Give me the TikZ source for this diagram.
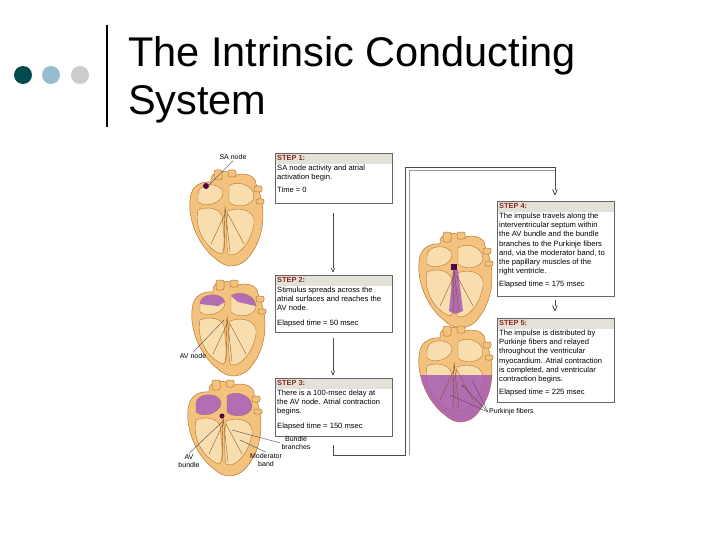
\documentclass[tikz,border=0pt]{standalone}
\usepackage{fontspec}
\setmainfont{Liberation Sans}
\definecolor{hfill}{HTML}{F2C27E}
\definecolor{hline}{HTML}{B9772E}
\definecolor{hchamb}{HTML}{F8DDAE}
\definecolor{hpurp}{HTML}{A65BB5}
\definecolor{hdrbg}{HTML}{E4E2D8}
\definecolor{hdrtx}{HTML}{8A2A1E}
\begin{document}
\begin{tikzpicture}[x=1pt,y=-1pt,
  boxtext/.style={anchor=north west,inner sep=2pt,font=\fontsize{7.6}{9.1}\selectfont,align=left},
  hdr/.style={anchor=north west,inner sep=2pt,font=\fontsize{7.4}{9}\selectfont\bfseries,text=hdrtx},
  lbl/.style={font=\fontsize{7}{8}\selectfont,inner sep=1pt,align=center},
  flow/.style={draw=black!70,line width=0.6pt},
  vhead/.style={font=\fontsize{8}{8}\selectfont,inner sep=0pt},
  heartfill/.style={fill=hfill,draw=hline,line width=0.5pt},
  chamber/.style={fill=hchamb,draw=hline,line width=0.4pt},
  purp/.style={fill=hpurp,draw=none,opacity=0.85}]
\useasboundingbox (0,0) rectangle (720,540);
\fill[white] (0,0) rectangle (720,540);
\fill[teal!60!black] (23,75) circle (9);
\fill[cyan!40!gray!70] (51,75) circle (9);
\fill[gray!40] (80,75) circle (9);
\draw[line width=2.5pt] (107,25) -- (107,127);
\node[anchor=base west,inner sep=0pt,font=\fontsize{41.5}{44}\selectfont] (t1) at (128,67) {The Intrinsic Conducting};
\node[anchor=base west,inner sep=0pt,font=\fontsize{41.5}{44}\selectfont] (t2) at (128,115) {System};

\newcommand{\hrt}[3]{%
\begin{scope}[shift={(#1,#2)}]
  \draw[heartfill] (-15,-32) .. controls (-18,-45) and (5,-45) .. (8,-38) .. controls (15,-42) and (30,-40) .. (30,-30)
     .. controls (40,-10) and (40,20) .. (25,40) .. controls (15,55) and (0,55) .. (-10,45)
     .. controls (-30,30) and (-40,0) .. (-35,-20) .. controls (-32,-30) and (-22,-33) .. (-15,-32) -- cycle;
  \draw[heartfill,rounded corners=2pt] (-12,-34) rectangle (-4,-44);
  \draw[heartfill,rounded corners=2pt] (2,-37) rectangle (10,-44);
  \draw[heartfill,rounded corners=2pt] (28,-28) rectangle (36,-22);
  \draw[heartfill,rounded corners=2pt] (30,-15) rectangle (38,-10);
  \draw[chamber] (-28,-20) .. controls (-28,-32) and (-5,-32) .. (-3,-22) .. controls (-2,-12) and (-20,-5) .. (-28,-12) -- cycle;
  \draw[chamber] (3,-28) .. controls (10,-34) and (27,-30) .. (28,-18) .. controls (28,-8) and (10,-5) .. (3,-12) -- cycle;
  \draw[chamber] (-28,-4) .. controls (-20,-8) and (-6,-6) .. (-4,2) .. controls (-2,20) and (0,38) .. (-5,40) .. controls (-20,35) and (-32,15) .. (-28,-4) -- cycle;
  \draw[chamber] (2,-3) .. controls (15,-8) and (30,-3) .. (28,10) .. controls (25,30) and (10,45) .. (2,40) .. controls (0,25) and (0,10) .. (2,-3) -- cycle;
  \ifcase#3\relax
  \or
    \fill[violet!60!black] (-20,-28) circle (3);
  \or
    \fill[purp] (-28,-20) .. controls (-28,-32) and (-5,-32) .. (-3,-22) -- (-10,-18) -- cycle;
    \fill[purp] (3,-28) .. controls (10,-34) and (27,-30) .. (28,-18) -- (10,-22) -- cycle;
  \or
    \fill[purp] (-28,-20) .. controls (-28,-32) and (-5,-32) .. (-3,-22) .. controls (-2,-12) and (-20,-5) .. (-28,-12) -- cycle;
    \fill[purp] (3,-28) .. controls (10,-34) and (27,-30) .. (28,-18) .. controls (28,-8) and (10,-5) .. (3,-12) -- cycle;
    \fill[violet!60!black] (-2,-8) circle (2.5);
  \or
    \fill[violet!60!black] (-4,-12) rectangle (2,-6);
    \fill[purp] (-2,-6) -- (3,-6) -- (8,35) -- (0,38) -- (-6,35) -- cycle;
  \or
    \begin{scope}
      \clip (-40,5) rectangle (40,60);
      \fill[purp] (-15,-32) .. controls (-18,-45) and (5,-45) .. (8,-38) .. controls (15,-42) and (30,-40) .. (30,-30)
     .. controls (40,-10) and (40,20) .. (25,40) .. controls (15,55) and (0,55) .. (-10,45)
     .. controls (-30,30) and (-40,0) .. (-35,-20) -- cycle;
    \end{scope}
  \fi
  \draw[hline!70!black,line width=0.35pt] (-1,-8) -- (-2,38) (-1,-8) -- (4,38) (-1,0) -- (-15,30) (2,0) -- (18,30);
\end{scope}}

\hrt{226}{214}{1}
\hrt{228}{324}{2}
\hrt{224}{424}{3}
\hrt{455}{276}{4}
\hrt{455}{370}{5}

\newcommand{\stepbox}[5]{%
  \fill[hdrbg] (#2,#3) rectangle ++(117,11);
  \draw[black!60,line width=0.5pt] (#2,#3) rectangle ++(117,#4);
  \coordinate (#1) at (#2,#3);
  \node[hdr] at (#2,#3) {#5};}
\stepbox{s1}{275}{153}{50}{STEP 1:}
\node[boxtext] (b1) at (275,163) {SA node activity and atrial\\activation begin.\\[4pt]Time = 0};
\stepbox{s2}{275}{275}{57}{STEP 2:}
\node[boxtext] (b2) at (275,285) {Stimulus spreads across the\\atrial surfaces and reaches the\\AV node.\\[5pt]Elapsed time = 50 msec};
\stepbox{s3}{275}{378}{58}{STEP 3:}
\node[boxtext] (b3) at (275,388) {There is a 100-msec delay at\\the AV node. Atrial contraction\\begins.\\[5pt]Elapsed time = 150 msec};
\stepbox{s4}{497}{201}{95}{STEP 4:}
\node[boxtext] (b4) at (497,211) {The impulse travels along the\\interventricular septum within\\the AV bundle and the bundle\\branches to the Purkinje fibers\\and, via the moderator band, to\\the papillary muscles of the\\right ventricle.\\[4pt]Elapsed time = 175 msec};
\stepbox{s5}{497}{318}{84}{STEP 5:}
\node[boxtext] (b5) at (497,328) {The impulse is distributed by\\Purkinje fibers and relayed\\throughout the ventricular\\myocardium. Atrial contraction\\is completed, and ventricular\\contraction begins.\\[4pt]Elapsed time = 225 msec};

\node[vhead] (v2) at (333,270) {v};
\node[vhead] (v3) at (333,373) {v};
\node[vhead] (v4) at (555,193) {V};
\node[vhead] (v5) at (555,309) {V};
\draw[flow] (333,213) -- (v2.north);
\draw[flow] (333,338) -- (v3.north);
\coordinate (c1) at (333,445);
\coordinate (c2) at (333,455);
\coordinate (c3) at (405,455);
\coordinate (c4) at (405,167);
\coordinate (c5) at (555,167);
\draw[flow] (c1) -- (c2) -- (c3) -- (c4) -- (c5);
\draw[black!40,line width=0.5pt] (409,455) -- (409,170) -- (555,170);
\draw[flow] (c5) -- (v4.north);
\draw[flow] (555,300) -- (v5.north);

\node[lbl] (la) at (233,157) {SA node};
\draw[black!70,line width=0.4pt] (la.south) -- (208,186);
\node[lbl] (lb) at (193,356) {AV node};
\draw[black!70,line width=0.4pt] (lb.north) -- (224,320);
\node[lbl] (lc) at (189,461) {AV\\bundle};
\draw[black!70,line width=0.4pt] (lc.north) -- (222,422);
\node[lbl] (ld) at (296,443) {Bundle\\branches};
\draw[black!70,line width=0.4pt] (ld.west) -- (232,430);
\node[lbl] (le) at (266,460) {Moderator\\band};
\draw[black!70,line width=0.4pt] (le.north) -- (240,440);
\node[lbl,anchor=west] (lf) at (488,412) {Purkinje fibers};
\draw[black!70,line width=0.4pt,->] (lf.west) -- (462,385);
\draw[black!70,line width=0.4pt] (lf.west) -- (472,380) (lf.west) -- (450,395);
\end{tikzpicture}
\end{document}
